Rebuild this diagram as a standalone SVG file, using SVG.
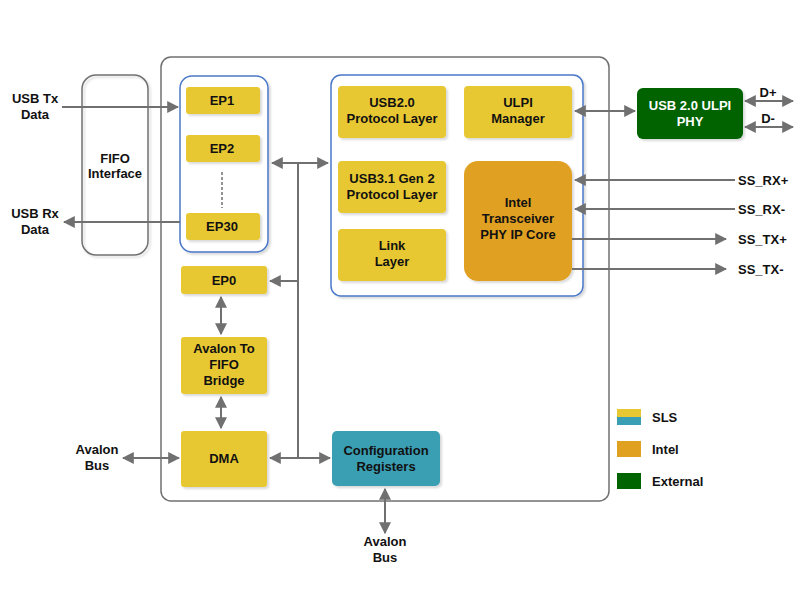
<svg xmlns="http://www.w3.org/2000/svg" width="800" height="600" viewBox="0 0 800 600">
<style>
text{font-family:"Liberation Sans",Arial,sans-serif;font-weight:bold;font-size:13px;fill:#111;text-anchor:middle}
.y{fill:#e8c832}
.w{fill:#fff}
.c{stroke:#707070;stroke-width:2;fill:none}
.g{fill:none;stroke:#707070;stroke-width:1.5}
.b{fill:#fff;stroke:#4a78c8;stroke-width:1.5}
.l{text-anchor:start}
</style>
<defs>
<marker id="a" viewBox="0 0 10 10" refX="9" refY="5" markerWidth="6" markerHeight="6" orient="auto-start-reverse"><path d="M0,0L10,5L0,10z" fill="#707070"/></marker>
<filter id="s" x="-10%" y="-10%" width="130%" height="130%"><feDropShadow dx="2" dy="2" stdDeviation="1" flood-color="#000" flood-opacity="0.15"/></filter>
</defs>
<rect width="800" height="600" fill="#fff"/>
<g id="outer"><rect x="161" y="57" width="448" height="444" rx="10" class="g"/></g>
<g id="fifo"><rect x="82" y="75" width="66" height="180" rx="14" class="g" filter="url(#s)"/><text x="115" y="163">FIFO</text><text x="115" y="178">Interface</text></g>
<g id="epgroup"><rect x="180" y="76" width="88" height="176" rx="12" class="b" filter="url(#s)"/></g>
<g id="ep1"><rect x="186" y="87" width="74" height="27" rx="3" class="y" filter="url(#s)"/><text x="222" y="105">EP1</text></g>
<g id="ep2"><rect x="186" y="135" width="74" height="27" rx="3" class="y" filter="url(#s)"/><text x="222" y="153">EP2</text></g>
<line x1="222" y1="172" x2="222" y2="208" stroke="#707070" stroke-width="1.5" stroke-dasharray="3,2"/>
<g id="ep30"><rect x="186" y="213" width="74" height="27" rx="3" class="y" filter="url(#s)"/><text x="222" y="231">EP30</text></g>
<g id="ep0"><rect x="181" y="266" width="86" height="28" rx="3" class="y" filter="url(#s)"/><text x="224" y="285">EP0</text></g>
<g id="bridge"><rect x="181" y="337" width="86" height="57" rx="3" class="y" filter="url(#s)"/><text x="224" y="353">Avalon To</text><text x="224" y="369">FIFO</text><text x="224" y="385">Bridge</text></g>
<g id="dma"><rect x="181" y="431" width="86" height="56" rx="3" class="y" filter="url(#s)"/><text x="224" y="463">DMA</text></g>
<g id="config"><rect x="332" y="431" width="108" height="55" rx="5" fill="#3a9fb4" filter="url(#s)"/><text x="386" y="455">Configuration</text><text x="386" y="471">Registers</text></g>
<g id="coregroup"><rect x="331" y="75" width="252" height="221" rx="10" class="b" filter="url(#s)"/></g>
<g id="usb20"><rect x="338" y="86" width="108" height="52" rx="4" class="y" filter="url(#s)"/><text x="392" y="107">USB2.0</text><text x="392" y="123">Protocol Layer</text></g>
<g id="ulpi"><rect x="464" y="86" width="108" height="52" rx="4" class="y" filter="url(#s)"/><text x="518" y="107">ULPI</text><text x="518" y="123">Manager</text></g>
<g id="usb31"><rect x="338" y="161" width="108" height="52" rx="4" class="y" filter="url(#s)"/><text x="392" y="183">USB3.1 Gen 2</text><text x="392" y="199">Protocol Layer</text></g>
<g id="link"><rect x="338" y="229" width="108" height="52" rx="4" class="y" filter="url(#s)"/><text x="392" y="250">Link</text><text x="392" y="266">Layer</text></g>
<g id="intel"><rect x="464" y="161" width="108" height="120" rx="14" fill="#e0a020" filter="url(#s)"/><text x="518" y="207">Intel</text><text x="518" y="223">Transceiver</text><text x="518" y="239">PHY IP Core</text></g>
<g id="phy"><rect x="637" y="88" width="106" height="51" rx="6" fill="#006400" filter="url(#s)"/><text x="690" y="110" style="fill:#fff">USB 2.0 ULPI</text><text x="690" y="126" style="fill:#fff">PHY</text></g>
<g id="connectors" class="c">
<line x1="62" y1="107" x2="178" y2="107" marker-end="url(#a)"/>
<line x1="180" y1="222" x2="64" y2="222" marker-end="url(#a)"/>
<line x1="298" y1="163" x2="298" y2="458"/>
<line x1="272" y1="163" x2="328" y2="163" marker-start="url(#a)" marker-end="url(#a)"/>
<line x1="298" y1="281" x2="270" y2="281" marker-end="url(#a)"/>
<line x1="270" y1="458" x2="330" y2="458" marker-start="url(#a)" marker-end="url(#a)"/>
<line x1="221" y1="297" x2="221" y2="334" marker-start="url(#a)" marker-end="url(#a)"/>
<line x1="221" y1="397" x2="221" y2="428" marker-start="url(#a)" marker-end="url(#a)"/>
<line x1="123" y1="458" x2="179" y2="458" marker-start="url(#a)" marker-end="url(#a)"/>
<line x1="385" y1="489" x2="385" y2="533" marker-start="url(#a)" marker-end="url(#a)"/>
<line x1="575" y1="111" x2="635" y2="111" marker-start="url(#a)" marker-end="url(#a)"/>
<line x1="745" y1="101" x2="793" y2="101" marker-start="url(#a)" marker-end="url(#a)"/>
<line x1="745" y1="127" x2="793" y2="127" marker-start="url(#a)" marker-end="url(#a)"/>
<line x1="735" y1="180" x2="575" y2="180" marker-end="url(#a)"/>
<line x1="735" y1="209" x2="575" y2="209" marker-end="url(#a)"/>
<line x1="572" y1="239" x2="726" y2="239" marker-end="url(#a)"/>
<line x1="572" y1="269" x2="726" y2="269" marker-end="url(#a)"/>
</g>
<text x="35" y="103">USB Tx</text><text x="35" y="119">Data</text>
<text x="35" y="218">USB Rx</text><text x="35" y="234">Data</text>
<text x="97" y="454">Avalon</text><text x="97" y="470">Bus</text>
<text x="385" y="546">Avalon</text><text x="385" y="562">Bus</text>
<text x="768" y="97">D+</text><text x="768" y="123">D-</text>
<text x="738" y="185" class="l">SS_RX+</text>
<text x="738" y="214" class="l">SS_RX-</text>
<text x="738" y="244" class="l">SS_TX+</text>
<text x="738" y="274" class="l">SS_TX-</text>
<g id="legend">
<rect x="617" y="409" width="24" height="8" fill="#e8c832"/><rect x="617" y="417" width="24" height="8" fill="#3a9fb4"/>
<text x="652" y="422" class="l">SLS</text>
<rect x="617" y="441" width="24" height="16" fill="#e0a020"/><text x="652" y="454" class="l">Intel</text>
<rect x="617" y="473" width="24" height="16" fill="#006400"/><text x="652" y="486" class="l">External</text>
</g>
</svg>
